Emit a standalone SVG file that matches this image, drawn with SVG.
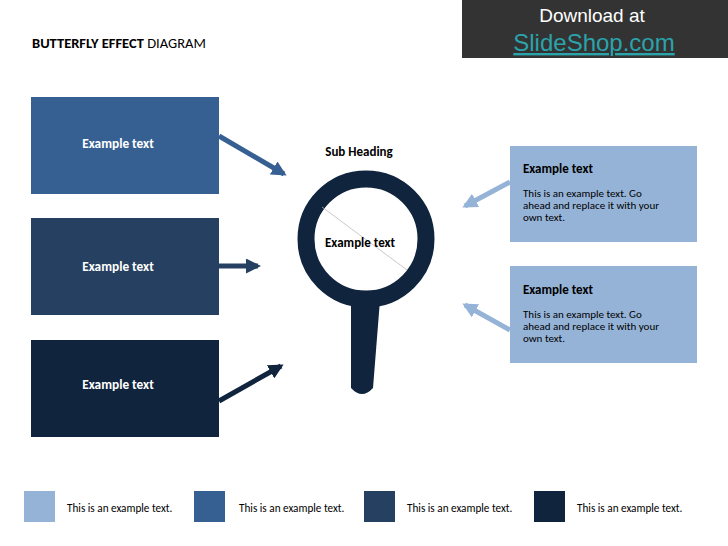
<svg xmlns="http://www.w3.org/2000/svg" width="728" height="546" viewBox="0 0 728 546">
<style>
text{font-family:Carlito,"Liberation Sans",sans-serif}
.w{fill:#fff;font-size:13.3px;font-weight:bold}
.b{fill:#000;font-size:13px;font-weight:bold}
.s{fill:#000;font-size:11px}
.l{fill:#000;font-size:11.2px}
</style>
<defs>
<marker id="aL" viewBox="0 0 10 10" refX="8" refY="5" markerWidth="3" markerHeight="3" orient="auto"><path d="M0,0L10,5L0,10z" fill="#95b3d7"/></marker>
<marker id="aM" viewBox="0 0 10 10" refX="8" refY="5" markerWidth="3" markerHeight="3" orient="auto"><path d="M0,0L10,5L0,10z" fill="#376092"/></marker>
<marker id="aD" viewBox="0 0 10 10" refX="8" refY="5" markerWidth="3" markerHeight="3" orient="auto"><path d="M0,0L10,5L0,10z" fill="#254061"/></marker>
<marker id="aX" viewBox="0 0 10 10" refX="8" refY="5" markerWidth="3" markerHeight="3" orient="auto"><path d="M0,0L10,5L0,10z" fill="#10243e"/></marker>
</defs>
<rect width="728" height="546" fill="#fff"/>
<g id="banner"><rect x="462" y="0" width="266" height="58" fill="#333"/>
<text x="592" y="22" text-anchor="middle" style="font-family:'Liberation Sans',sans-serif;font-size:19px" fill="#fff">Download at</text>
<text x="594" y="51" text-anchor="middle" style="font-family:'Liberation Sans',sans-serif;font-size:24px;text-decoration:underline" fill="#2aa3ab">SlideShop.com</text></g>
<text x="32" y="48" style="font-size:14.5px" fill="#000"><tspan font-weight="bold">BUTTERFLY EFFECT</tspan> DIAGRAM</text>
<g id="box1"><rect x="31" y="97" width="188" height="97" fill="#376092"/><text class="w" x="118" y="148" text-anchor="middle">Example text</text></g>
<g id="box2"><rect x="31" y="218" width="188" height="97" fill="#254061"/><text class="w" x="118" y="271" text-anchor="middle">Example text</text></g>
<g id="box3"><rect x="31" y="340" width="188" height="97" fill="#10243e"/><text class="w" x="118" y="389" text-anchor="middle">Example text</text></g>
<g id="box4"><rect x="510" y="146" width="187" height="96" fill="#95b3d7"/><text class="b" x="523" y="173">Example text</text><text class="s" x="523" y="197">This is an example text. Go</text><text class="s" x="523" y="209">ahead and replace it with your</text><text class="s" x="523" y="221">own text.</text></g>
<g id="box5"><rect x="510" y="266" width="187" height="97" fill="#95b3d7"/><text class="b" x="523" y="294">Example text</text><text class="s" x="523" y="318">This is an example text. Go</text><text class="s" x="523" y="330">ahead and replace it with your</text><text class="s" x="523" y="342">own text.</text></g>
<g id="magnifier">
<text class="b" x="359" y="156" text-anchor="middle">Sub Heading</text>
<path d="M351,300 L380,300 L373,388 Q362,400 351,388 Z" fill="#10243e"/>
<circle cx="366" cy="239" r="60" fill="none" stroke="#10243e" stroke-width="17"/>
<line x1="322" y1="207" x2="407" y2="270" stroke="#bbb" stroke-width="0.8"/>
<text class="b" x="360" y="247" text-anchor="middle">Example text</text>
</g>
<g id="connectors" stroke-width="5" fill="none">
<line x1="219" y1="136" x2="284" y2="174" stroke="#376092" marker-end="url(#aM)"/>
<line x1="219" y1="266" x2="258" y2="266" stroke="#254061" marker-end="url(#aD)"/>
<line x1="219" y1="401" x2="281" y2="366" stroke="#10243e" marker-end="url(#aX)"/>
<line x1="510" y1="182" x2="465" y2="206" stroke="#95b3d7" marker-end="url(#aL)"/>
<line x1="510" y1="330" x2="465" y2="305" stroke="#95b3d7" marker-end="url(#aL)"/>
</g>
<g id="legend">
<rect x="24" y="491" width="31" height="31" fill="#95b3d7"/><text class="l" x="67" y="512">This is an example text.</text>
<rect x="194" y="491" width="31" height="31" fill="#376092"/><text class="l" x="239" y="512">This is an example text.</text>
<rect x="364" y="491" width="31" height="31" fill="#254061"/><text class="l" x="407" y="512">This is an example text.</text>
<rect x="534" y="491" width="31" height="31" fill="#10243e"/><text class="l" x="577" y="512">This is an example text.</text>
</g>
</svg>
